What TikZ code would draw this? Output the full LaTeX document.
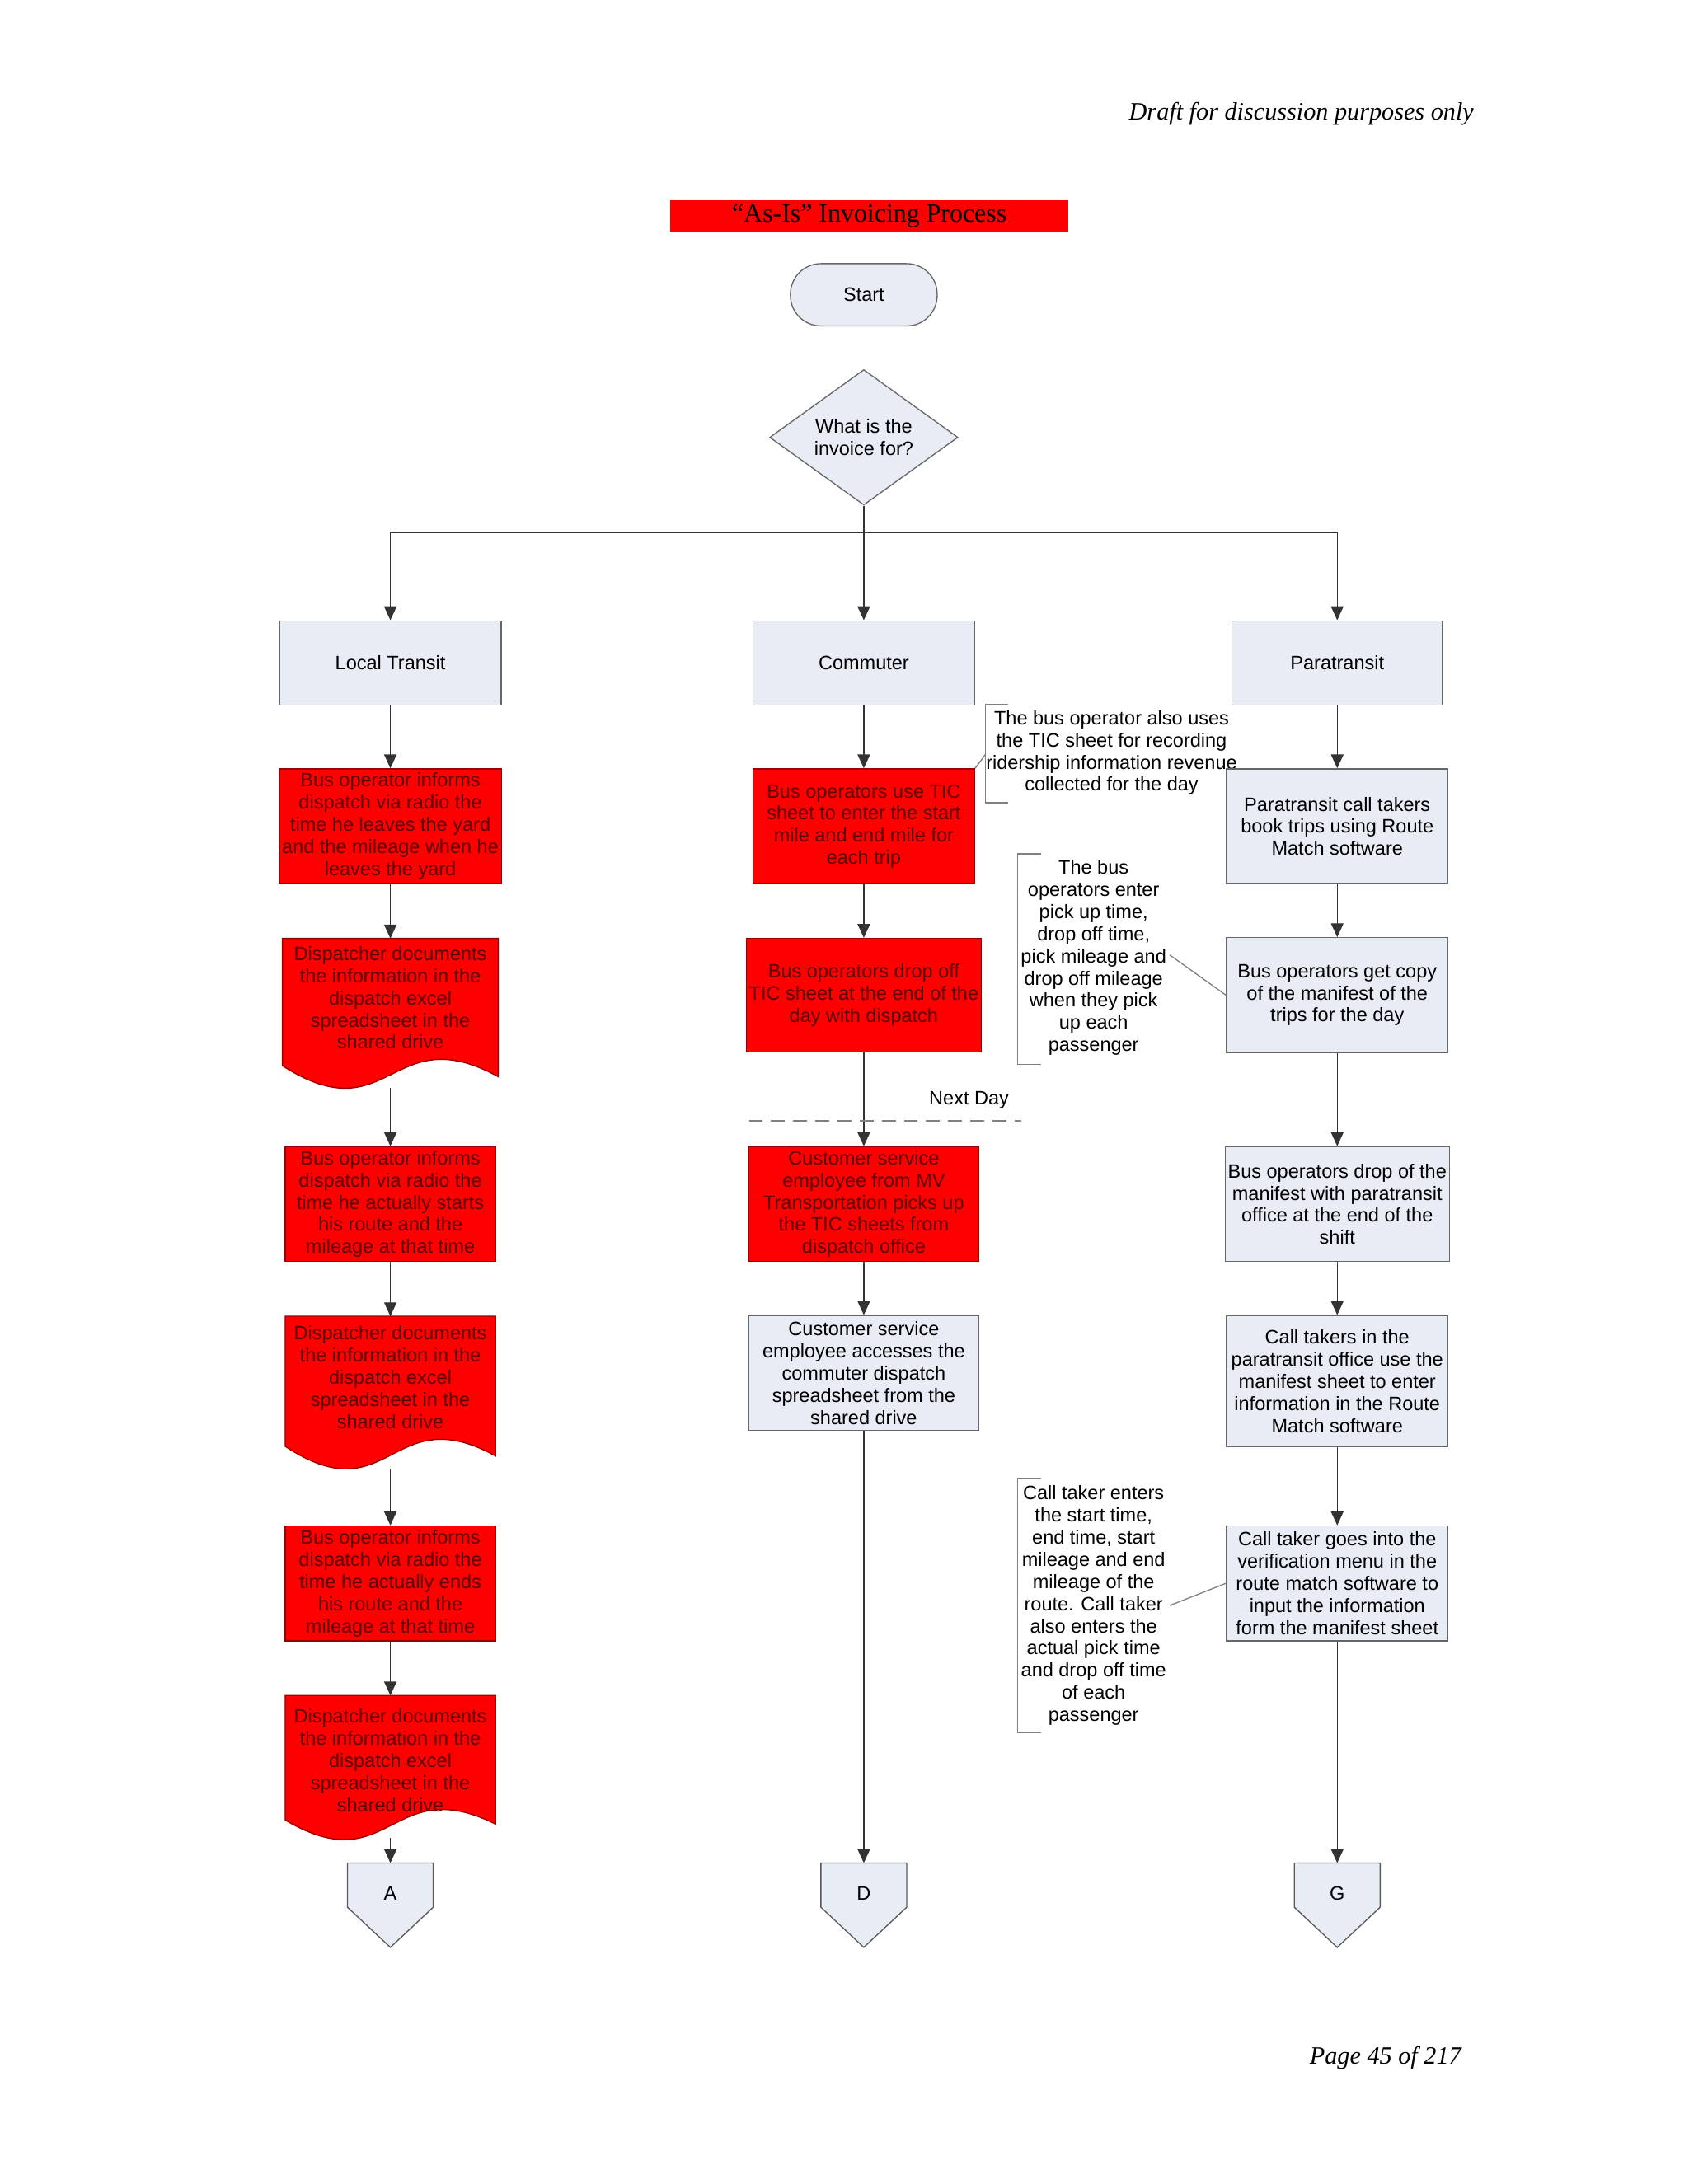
\documentclass[tikz,border=0pt]{standalone}
\usepackage{fontspec}
\setmainfont{Liberation Serif}
\newfontfamily\arial{Liberation Sans}
\usetikzlibrary{shapes.geometric,arrows.meta}
\definecolor{gfill}{HTML}{E8ECF5}
\definecolor{dred}{HTML}{5A0000}
\begin{document}
\begin{tikzpicture}[x=0.5pt,y=-0.5pt,
 every node/.style={font=\arial\fontsize{7}{8}\selectfont,align=center,inner sep=1pt},
 gbox/.style={draw=gray!80!black,fill=gfill,line width=0.4pt,minimum width=#1*0.5pt},
 rbox/.style={draw=red!60!black,fill=red,text=dred,line width=0.4pt,minimum width=#1*0.5pt},
 arr/.style={draw=gray!40!black,line width=0.4pt,-{Triangle[length=5pt,width=4.5pt]}},
 ln/.style={draw=gray!40!black,line width=0.4pt},
 doc/.style={draw=red!60!black,fill=red,line width=0.4pt}]
\useasboundingbox (0,0) rectangle (1220,1578);
\node[font=\itshape\fontsize{9}{10}\selectfont,anchor=east] (hdr) at (1067,82) {Draft for discussion purposes only};
\node[font=\itshape\fontsize{9}{10}\selectfont,anchor=east] (pg) at (1058,1487) {Page 45 of 217};
\node[fill=red,minimum width=144pt,minimum height=11.5pt,font=\fontsize{9.5}{10}\selectfont,inner sep=0pt] (title) at (628,156) {“As-Is” Invoicing Process};
\node[gbox=106,rounded corners=11pt,minimum height=22.5pt] (start) at (624,213) {Start};
\node[draw=gray!80!black,fill=gfill,diamond,minimum width=68pt,minimum height=45pt,inner sep=0pt] (dec) at (624,316) {What is the\\invoice for?};
% column boxes
\node[gbox=160,minimum height=30.5pt] (lt) at (282,479) {Local Transit};
\node[gbox=160,minimum height=30.5pt] (cm) at (624,479) {Commuter};
\node[gbox=152,minimum height=30.5pt] (pt) at (966,479) {Paratransit};
\coordinate (j) at (624,385);
\draw[ln] (dec.south) -- (j);
\draw[arr] (j) -| (lt.north);
\draw[arr] (j) -| (pt.north);
\draw[arr] (j) -- (cm.north);
% left column
\node[rbox=160,minimum height=41.5pt] (l1) at (282,597) {Bus operator informs\\dispatch via radio the\\time he leaves the yard\\and the mileage when he\\leaves the yard};
\draw[doc] (204,678) -- (360,678) -- (360,778) .. controls (282,735) and (282,820) .. (204,770) -- cycle;
\node[text=dred] (l2) at (282,721) {Dispatcher documents\\the information in the\\dispatch excel\\spreadsheet in the\\shared drive};
\node[rbox=152,minimum height=41.5pt] (l3) at (282,870) {Bus operator informs\\dispatch via radio the\\time he actually starts\\his route and the\\mileage at that time};
\draw[doc] (206,951) -- (358,951) -- (358,1052) .. controls (282,1010) and (282,1095) .. (206,1045) -- cycle;
\node[text=dred] (l4) at (282,995) {Dispatcher documents\\the information in the\\dispatch excel\\spreadsheet in the\\shared drive};
\node[rbox=152,minimum height=41.5pt] (l5) at (282,1144) {Bus operator informs\\dispatch via radio the\\time he actually ends\\his route and the\\mileage at that time};
\draw[doc] (206,1225) -- (358,1225) -- (358,1318) .. controls (282,1280) and (282,1360) .. (206,1315) -- cycle;
\node[text=dred] (l6) at (282,1272) {Dispatcher documents\\the information in the\\dispatch excel\\spreadsheet in the\\shared drive};
\coordinate (l2b) at (282,786);
\coordinate (l4b) at (282,1062);
\coordinate (l6b) at (282,1328);
\draw[arr] (lt.south) -- (l1.north);
\draw[arr] (l1.south) -- (282,678);
\draw[arr] (l2b) -- (l3.north);
\draw[arr] (l3.south) -- (282,951);
\draw[arr] (l4b) -- (l5.north);
\draw[arr] (l5.south) -- (282,1225);
% off page connectors
\foreach \n/\x/\t in {A/282/A,D/624/D,G/966/G}{
  \draw[draw=gray!70!black,fill=gfill,line width=0.4pt] (\x-31,1346) -- (\x+31,1346) -- (\x+31,1378) -- (\x,1407) -- (\x-31,1378) -- cycle;
  \node (\n) at (\x,1368) {\t};
}
\draw[arr] (l6b) -- (282,1346);
% middle column
\node[rbox=160,minimum height=41.5pt] (m1) at (624,597) {Bus operators use TIC\\sheet to enter the start\\mile and end mile for\\each trip};
\node[rbox=166,minimum height=41pt] (m2) at (624,719) {Bus operators drop off\\TIC sheet at the end of the\\day with dispatch};
\node[rbox=166,minimum height=41.5pt] (m3) at (624,870) {Customer service\\employee from MV\\Transportation picks up\\the TIC sheets from\\dispatch office};
\node[gbox=166,minimum height=41.5pt] (m4) at (624,992) {Customer service\\employee accesses the\\commuter dispatch\\spreadsheet from the\\shared drive};
\draw[arr] (cm.south) -- (m1.north);
\draw[arr] (m1.south) -- (m2.north);
\draw[arr] (m2.south) -- (m3.north);
\draw[arr] (m3.south) -- (m4.north);
\draw[arr] (m4.south) -- (624,1346);
\coordinate (nd1) at (541,810); \coordinate (nd2) at (738,810);
\draw[gray,dashed,line width=0.5pt,dash pattern=on 5pt off 3pt] (nd1) -- (nd2);
\node (nd) at (700,795) {Next Day};
% annotation 1
\node (a1) at (803,544) {The bus operator also uses\\the TIC sheet for recording\\ridership information revenue\\collected for the day};
\draw[ln,gray] (728,509) -- (712,509) -- (712,580) -- (728,580);
\draw[ln,gray] (712,545) -- (m1.north east);
% right column
\node[gbox=160,minimum height=41.5pt] (r1) at (966,597) {Paratransit call takers\\book trips using Route\\Match software};
\node[gbox=160,minimum height=41.5pt] (r2) at (966,719) {Bus operators get copy\\of the manifest of the\\trips for the day};
\node[gbox=160,minimum height=41.5pt] (r3) at (966,870) {Bus operators drop of the\\manifest with paratransit\\office at the end of the\\shift};
\node[gbox=160,minimum height=47.5pt] (r4) at (966,998) {Call takers in the\\paratransit office use the\\manifest sheet to enter\\information in the Route\\Match software};
\node[gbox=160,minimum height=41.5pt] (r5) at (966,1144) {Call taker goes into the\\verification menu in the\\route match software to\\input the information\\form the manifest sheet};
\draw[arr] (pt.south) -- (r1.north);
\draw[arr] (r1.south) -- (r2.north);
\draw[arr] (r2.south) -- (r3.north);
\draw[arr] (r3.south) -- (r4.north);
\draw[arr] (r4.south) -- (r5.north);
\draw[arr] (r5.south) -- (966,1346);
% annotation 2
\node (a2) at (790,692) {The bus\\operators enter\\pick up time,\\drop off time,\\pick mileage and\\drop off mileage\\when they pick\\up each\\passenger};
\draw[ln,gray] (752,617) -- (735,617) -- (735,769) -- (752,769);
\draw[ln,gray] (845,690) -- (r2.west);
% annotation 3
\node (a3) at (790,1160) {Call taker enters\\the start time,\\end time, start\\mileage and end\\mileage of the\\route. Call taker\\also enters the\\actual pick time\\and drop off time\\of each\\passenger};
\draw[ln,gray] (752,1068) -- (735,1068) -- (735,1252) -- (752,1252);
\draw[ln,gray] (845,1160) -- (r5.west);
\end{tikzpicture}
\end{document}
